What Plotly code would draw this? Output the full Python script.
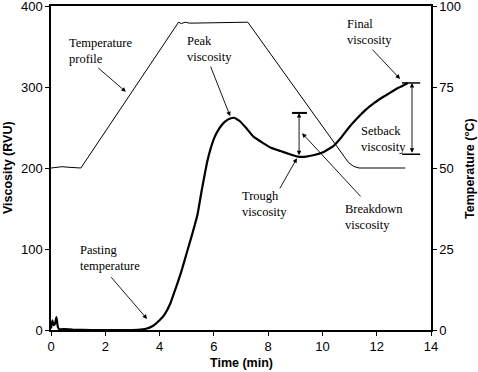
import plotly.graph_objects as go

# ---- data ----
visc_time = [0, 0.05, 0.1, 0.15, 0.2, 0.25, 0.3, 0.5, 0.8, 1.5, 2.5, 3.2, 3.5, 3.75, 4.0, 4.2,
             4.4, 4.6, 4.8, 5.0, 5.2, 5.4, 5.55, 5.75, 5.9, 6.0, 6.2, 6.4, 6.6, 6.75, 6.95,
             7.2, 7.45, 7.8, 8.1, 8.45, 8.8, 9.1, 9.4, 9.7, 10.0, 10.4, 10.7, 11.0, 11.3,
             11.6, 11.9, 12.2, 12.5, 12.8, 13.15]
visc_rvu = [2, 12, 6, 8, 16, 4, 1, 1, 0.5, 0, 0, 0.3, 1.5, 5, 12, 20,
            33, 52, 72, 95, 118, 143, 172, 207, 226, 236, 249, 257, 261, 262, 258,
            249, 239, 231, 225, 221, 217, 214, 214, 216, 219, 227, 238, 251, 262,
            272, 280, 287, 293, 299, 305]

temp_time = [0, 0.4, 0.7, 1.1, 4.7, 4.8, 4.95, 5.1, 7.25, 10.95, 11.15, 11.35, 13.05]
temp_c = [50, 50.4, 50.2, 50, 95, 94.6, 95, 94.7, 95, 51.8, 50.5, 50, 50]

peak_mark = 268      # breakdown bar top
trough_visc = 214
setback_low = 217
final_visc = 305
breakdown_time = 9.14
setback_time = 13.3

x_ticks = [0, 2, 4, 6, 8, 10, 12, 14]
y_ticks = [0, 100, 200, 300, 400]
y2_ticks = [0, 25, 50, 75, 100]

# ---- figure ----
fig = go.Figure()
fig.add_trace(go.Scatter(x=temp_time, y=temp_c, yaxis="y2", mode="lines",
                         line=dict(color="black", width=1), showlegend=False))
fig.add_trace(go.Scatter(x=visc_time, y=visc_rvu, mode="lines",
                         line=dict(color="black", width=2.2, shape="spline", smoothing=0.3),
                         showlegend=False))

serif = dict(family="Liberation Serif", size=12.5, color="black")

labels = [
    ("Temperature<br>profile", 0.59, 344),
    ("Peak<br>viscosity", 4.94, 347),
    ("Final<br>viscosity", 10.83, 368),
    ("Setback<br>viscosity", 11.35, 236),
    ("Trough<br>viscosity", 6.96, 156),
    ("Breakdown<br>viscosity", 10.76, 139),
    ("Pasting<br>temperature", 1.0, 89),
]
annotations = []
for txt, x, y in labels:
    annotations.append(dict(text=txt, x=x, y=y, xref="x", yref="y", showarrow=False,
                            xanchor="left", yanchor="middle", align="left", font=serif))

arrows = [
    (2.76, 294, 1.69, 325),
    (6.6, 264, 5.86, 327),
    (12.86, 310, 11.79, 348),
    (9.06, 212, 8.4, 173),
    (9.25, 243, 11.46, 163),
    (3.54, 13.6, 2.17, 67),
]
for x, y, ax, ay in arrows:
    annotations.append(dict(text="", x=x, y=y, ax=ax, ay=ay, xref="x", yref="y",
                            axref="x", ayref="y", showarrow=True, arrowhead=2,
                            arrowsize=1, arrowwidth=0.9, arrowcolor="black"))

for xt, y0, y1 in [(breakdown_time, trough_visc, peak_mark), (setback_time, setback_low, final_visc)]:
    annotations.append(dict(text="", x=xt, y=y1, ax=xt, ay=y0, xref="x", yref="y",
                            axref="x", ayref="y", showarrow=True, arrowhead=2,
                            arrowside="end+start", arrowsize=1, arrowwidth=0.9,
                            arrowcolor="black"))

title_font = dict(family="Liberation Sans, Arial, sans-serif", size=12.5, color="black")
annotations += [
    dict(text="<b>Time (min)</b>", x=0.5, y=-0.102, xref="paper", yref="paper",
         showarrow=False, xanchor="center", yanchor="middle", font=title_font),
    dict(text="<b>Viscosity (RVU)</b>", x=-0.113, y=0.5, xref="paper", yref="paper",
         showarrow=False, xanchor="center", yanchor="middle", textangle=-90, font=title_font),
    dict(text="<b>Temperature (°C)</b>", x=1.1026, y=0.5, xref="paper", yref="paper",
         showarrow=False, xanchor="center", yanchor="middle", textangle=-90, font=title_font),
]

shapes = [
    dict(type="line", xref="x", yref="y", x0=8.88, x1=9.43, y0=peak_mark, y1=peak_mark,
         line=dict(color="black", width=2)),
    dict(type="line", xref="x", yref="y", x0=12.93, x1=13.6, y0=final_visc, y1=final_visc,
         line=dict(color="black", width=1.5)),
    dict(type="line", xref="x", yref="y", x0=12.93, x1=13.6, y0=setback_low, y1=setback_low,
         line=dict(color="black", width=1.5)),
]

sans = dict(family="Liberation Sans, Arial, sans-serif", size=13, color="black")

fig.update_layout(
    width=478, height=372,
    margin=dict(l=51, r=47, t=6, b=42),
    paper_bgcolor="white", plot_bgcolor="white",
    annotations=annotations, shapes=shapes,
    xaxis=dict(range=[0, 14], tickvals=x_ticks, ticks="outside", ticklen=4,
               tickcolor="black", showline=True, linecolor="black", linewidth=1.5,
               mirror=True, showgrid=False, zeroline=False, tickfont=sans,
               automargin=False, ticklabeloverflow="allow"),
    yaxis=dict(range=[0, 400], tickvals=y_ticks, ticks="outside", ticklen=4,
               tickcolor="black", showline=True, linecolor="black", linewidth=1.5,
               showgrid=False, zeroline=False, tickfont=sans, automargin=False,
               ticklabeloverflow="allow"),
    yaxis2=dict(range=[0, 100], tickvals=y2_ticks, ticks="outside", ticklen=4,
                tickcolor="black", showline=True, linecolor="black", linewidth=1.5,
                overlaying="y", side="right", showgrid=False, zeroline=False,
                tickfont=sans, automargin=False, ticklabeloverflow="allow"),
)

fig.write_html("out.html", config={"displayModeBar": False},
               post_script="document.body.style.margin='0';document.body.style.padding='0';")
